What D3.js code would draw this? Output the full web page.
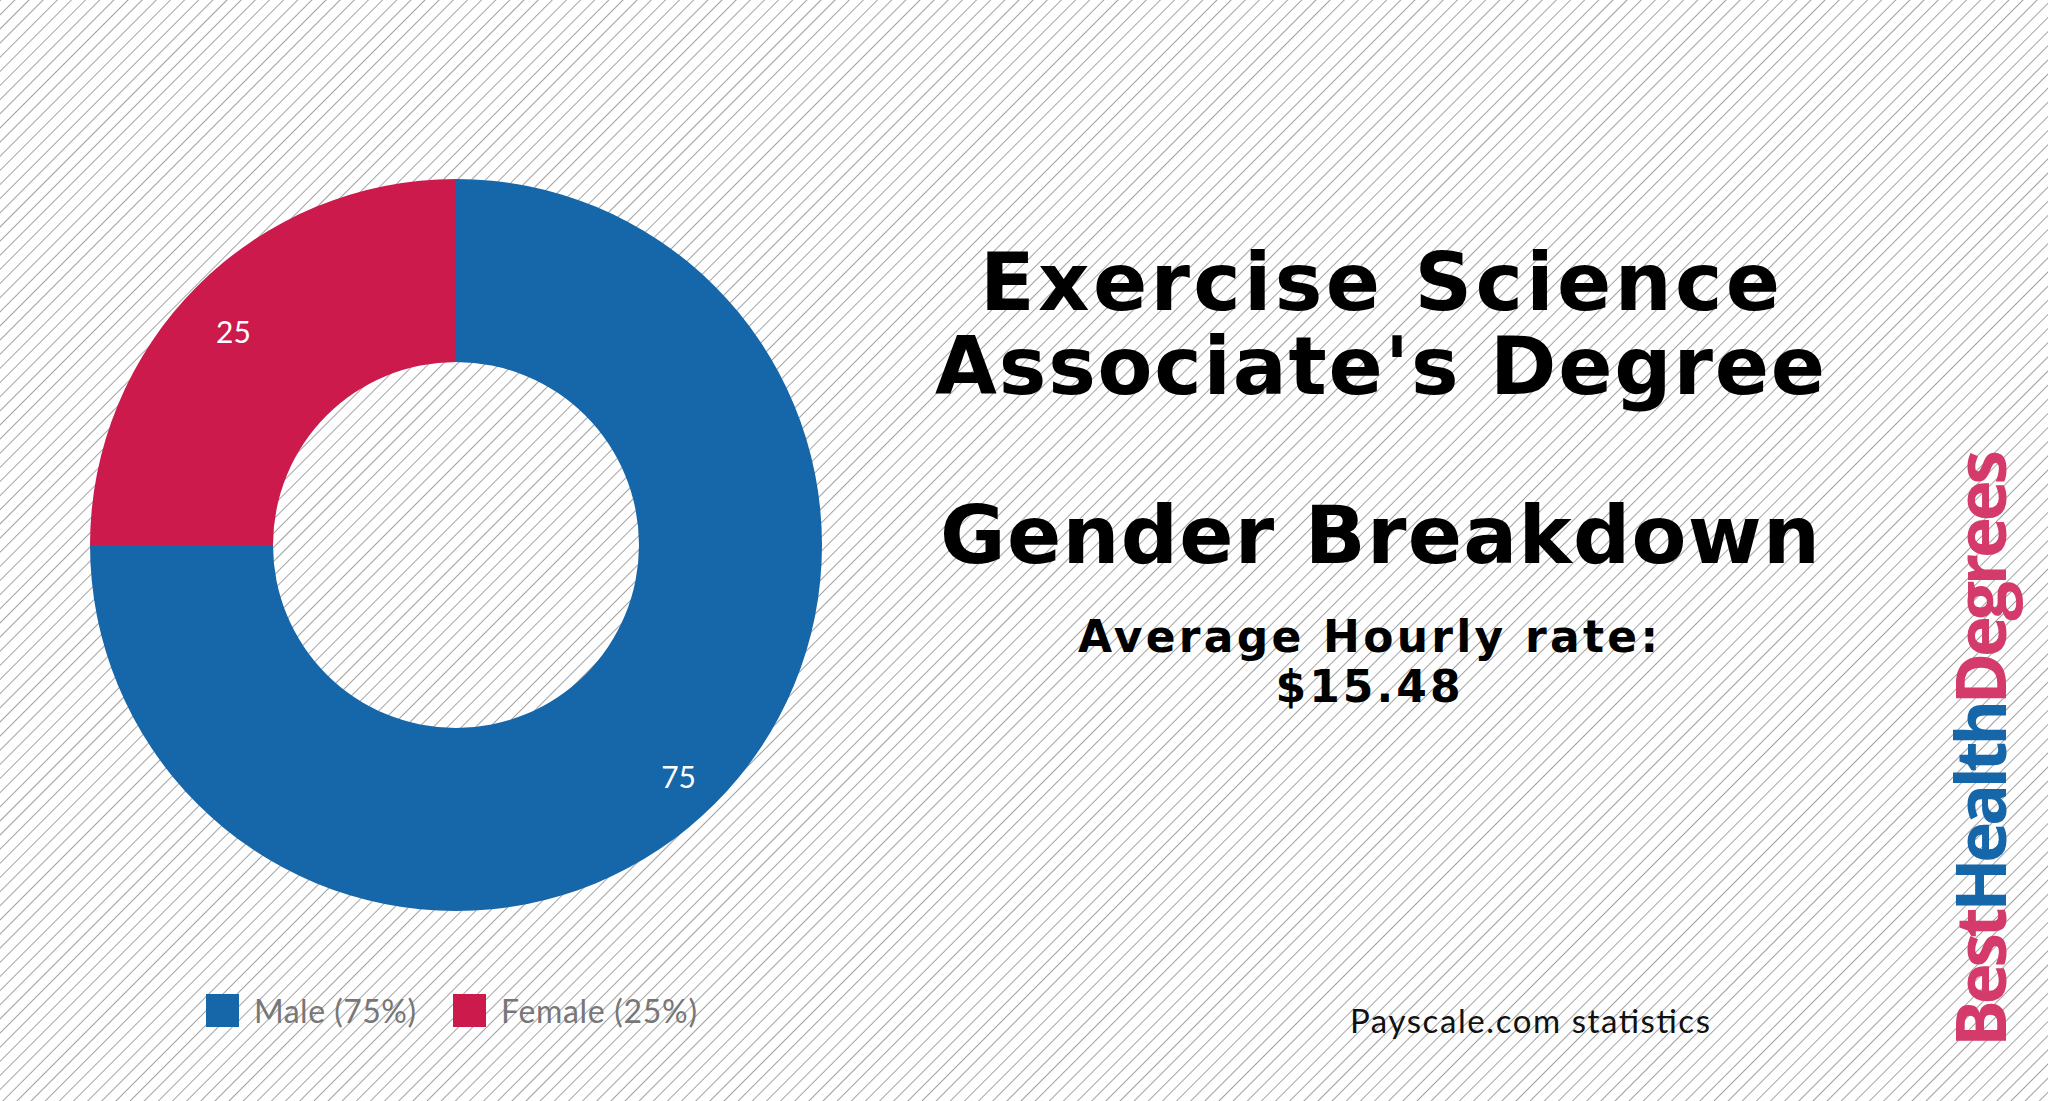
<!DOCTYPE html>
<html><head><meta charset="utf-8">
<script src="https://cdn.jsdelivr.net/npm/d3@7"></script>
<style>body{margin:0;background:#fff}</style>
</head><body><div id="svg-container"></div>
<script>
var categories = ["Male", "Female"];
var values = [75, 25];
var colors = ["#1666aa", "#cc1a4d"];
var legendLabels = ["Male (75%)", "Female (25%)"];

var width = 2048, height = 1101;
var svg = d3.select("#svg-container").append("svg")
  .attr("width", width).attr("height", height);

var defs = svg.append("defs");
var pat = defs.append("pattern").attr("id", "hatch").attr("patternUnits", "userSpaceOnUse")
  .attr("width", 10).attr("height", 10).attr("patternTransform", "rotate(45)");
pat.append("rect").attr("width", 10).attr("height", 10).attr("fill", "#fff");
pat.append("line").attr("x1", 0).attr("y1", 0).attr("x2", 0).attr("y2", 10)
  .attr("stroke", "#999").attr("stroke-width", 1.8);
svg.append("rect").attr("width", width).attr("height", height).attr("fill", "url(#hatch)");

var cx = 456, cy = 545, R = 366, r = 183;
var pie = d3.pie().sort(null)(values);
var arc = d3.arc().innerRadius(r).outerRadius(R);
var g = svg.append("g").attr("transform", "translate(" + cx + "," + cy + ")");
g.selectAll("path").data(pie).enter().append("path")
  .attr("d", arc).attr("fill", function (d, i) { return colors[i]; });
var labelArc = d3.arc().innerRadius(R * 0.86).outerRadius(R * 0.86);
g.selectAll("text").data(pie).enter().append("text")
  .attr("transform", function (d) { var c = labelArc.centroid(d); return "translate(" + c[0] + "," + (c[1] + 10) + ")"; })
  .attr("text-anchor", "middle").attr("dy", "0.35em")
  .attr("font-family", "Lato").attr("font-size", 30).attr("fill", "#fff")
  .text(function (d) { return d.data; });

var leg = svg.append("g").selectAll("g").data(categories).enter().append("g")
  .attr("transform", function (d, i) { return "translate(" + [206, 453][i] + ",994)"; });
leg.append("rect").attr("width", 33).attr("height", 33).attr("fill", function (d, i) { return colors[i]; });
leg.append("text").attr("x", 48).attr("y", 29).attr("font-family", "Lato").attr("font-size", 32)
  .attr("fill", "#777").attr("textLength", function (d, i) { return [162, 196][i]; })
  .text(function (d, i) { return legendLabels[i]; });

var title = [["Exercise Science", 310, 80], ["Associate's Degree", 394, 80], ["Gender Breakdown", 563, 80],
  ["Average Hourly rate:", 652, 44], ["$15.48", 702, 44]];
svg.selectAll(".t").data(title).enter().append("text").attr("class", "t")
  .attr("x", function (d, i) { return i < 3 ? 1380 : 1368; }).attr("y", function (d) { return d[1]; })
  .attr("text-anchor", "middle").attr("font-family", "DejaVu Sans").attr("font-weight", 900)
  .attr("font-size", function (d) { return d[2]; }).attr("fill", "#000")
  .attr("textLength", function (d, i) { return [800, 890, 880, 580, 185][i]; })
  .text(function (d) { return d[0]; });

svg.append("text").attr("x", 1530).attr("y", 1033).attr("text-anchor", "middle")
  .attr("font-family", "Lato").attr("font-size", 33).attr("fill", "#111")
  .attr("textLength", 360).text("Payscale.com  statistics");

var logo = svg.append("text").attr("transform", "translate(2006,1047) rotate(-90)")
  .attr("font-family", "Open Sans").attr("font-weight", 700).attr("font-size", 70)
  .attr("textLength", 597);
logo.append("tspan").attr("fill", "#d43b6b").text("Best");
logo.append("tspan").attr("fill", "#1666aa").text("Health");
logo.append("tspan").attr("fill", "#d43b6b").text("Degrees");
</script></body></html>
